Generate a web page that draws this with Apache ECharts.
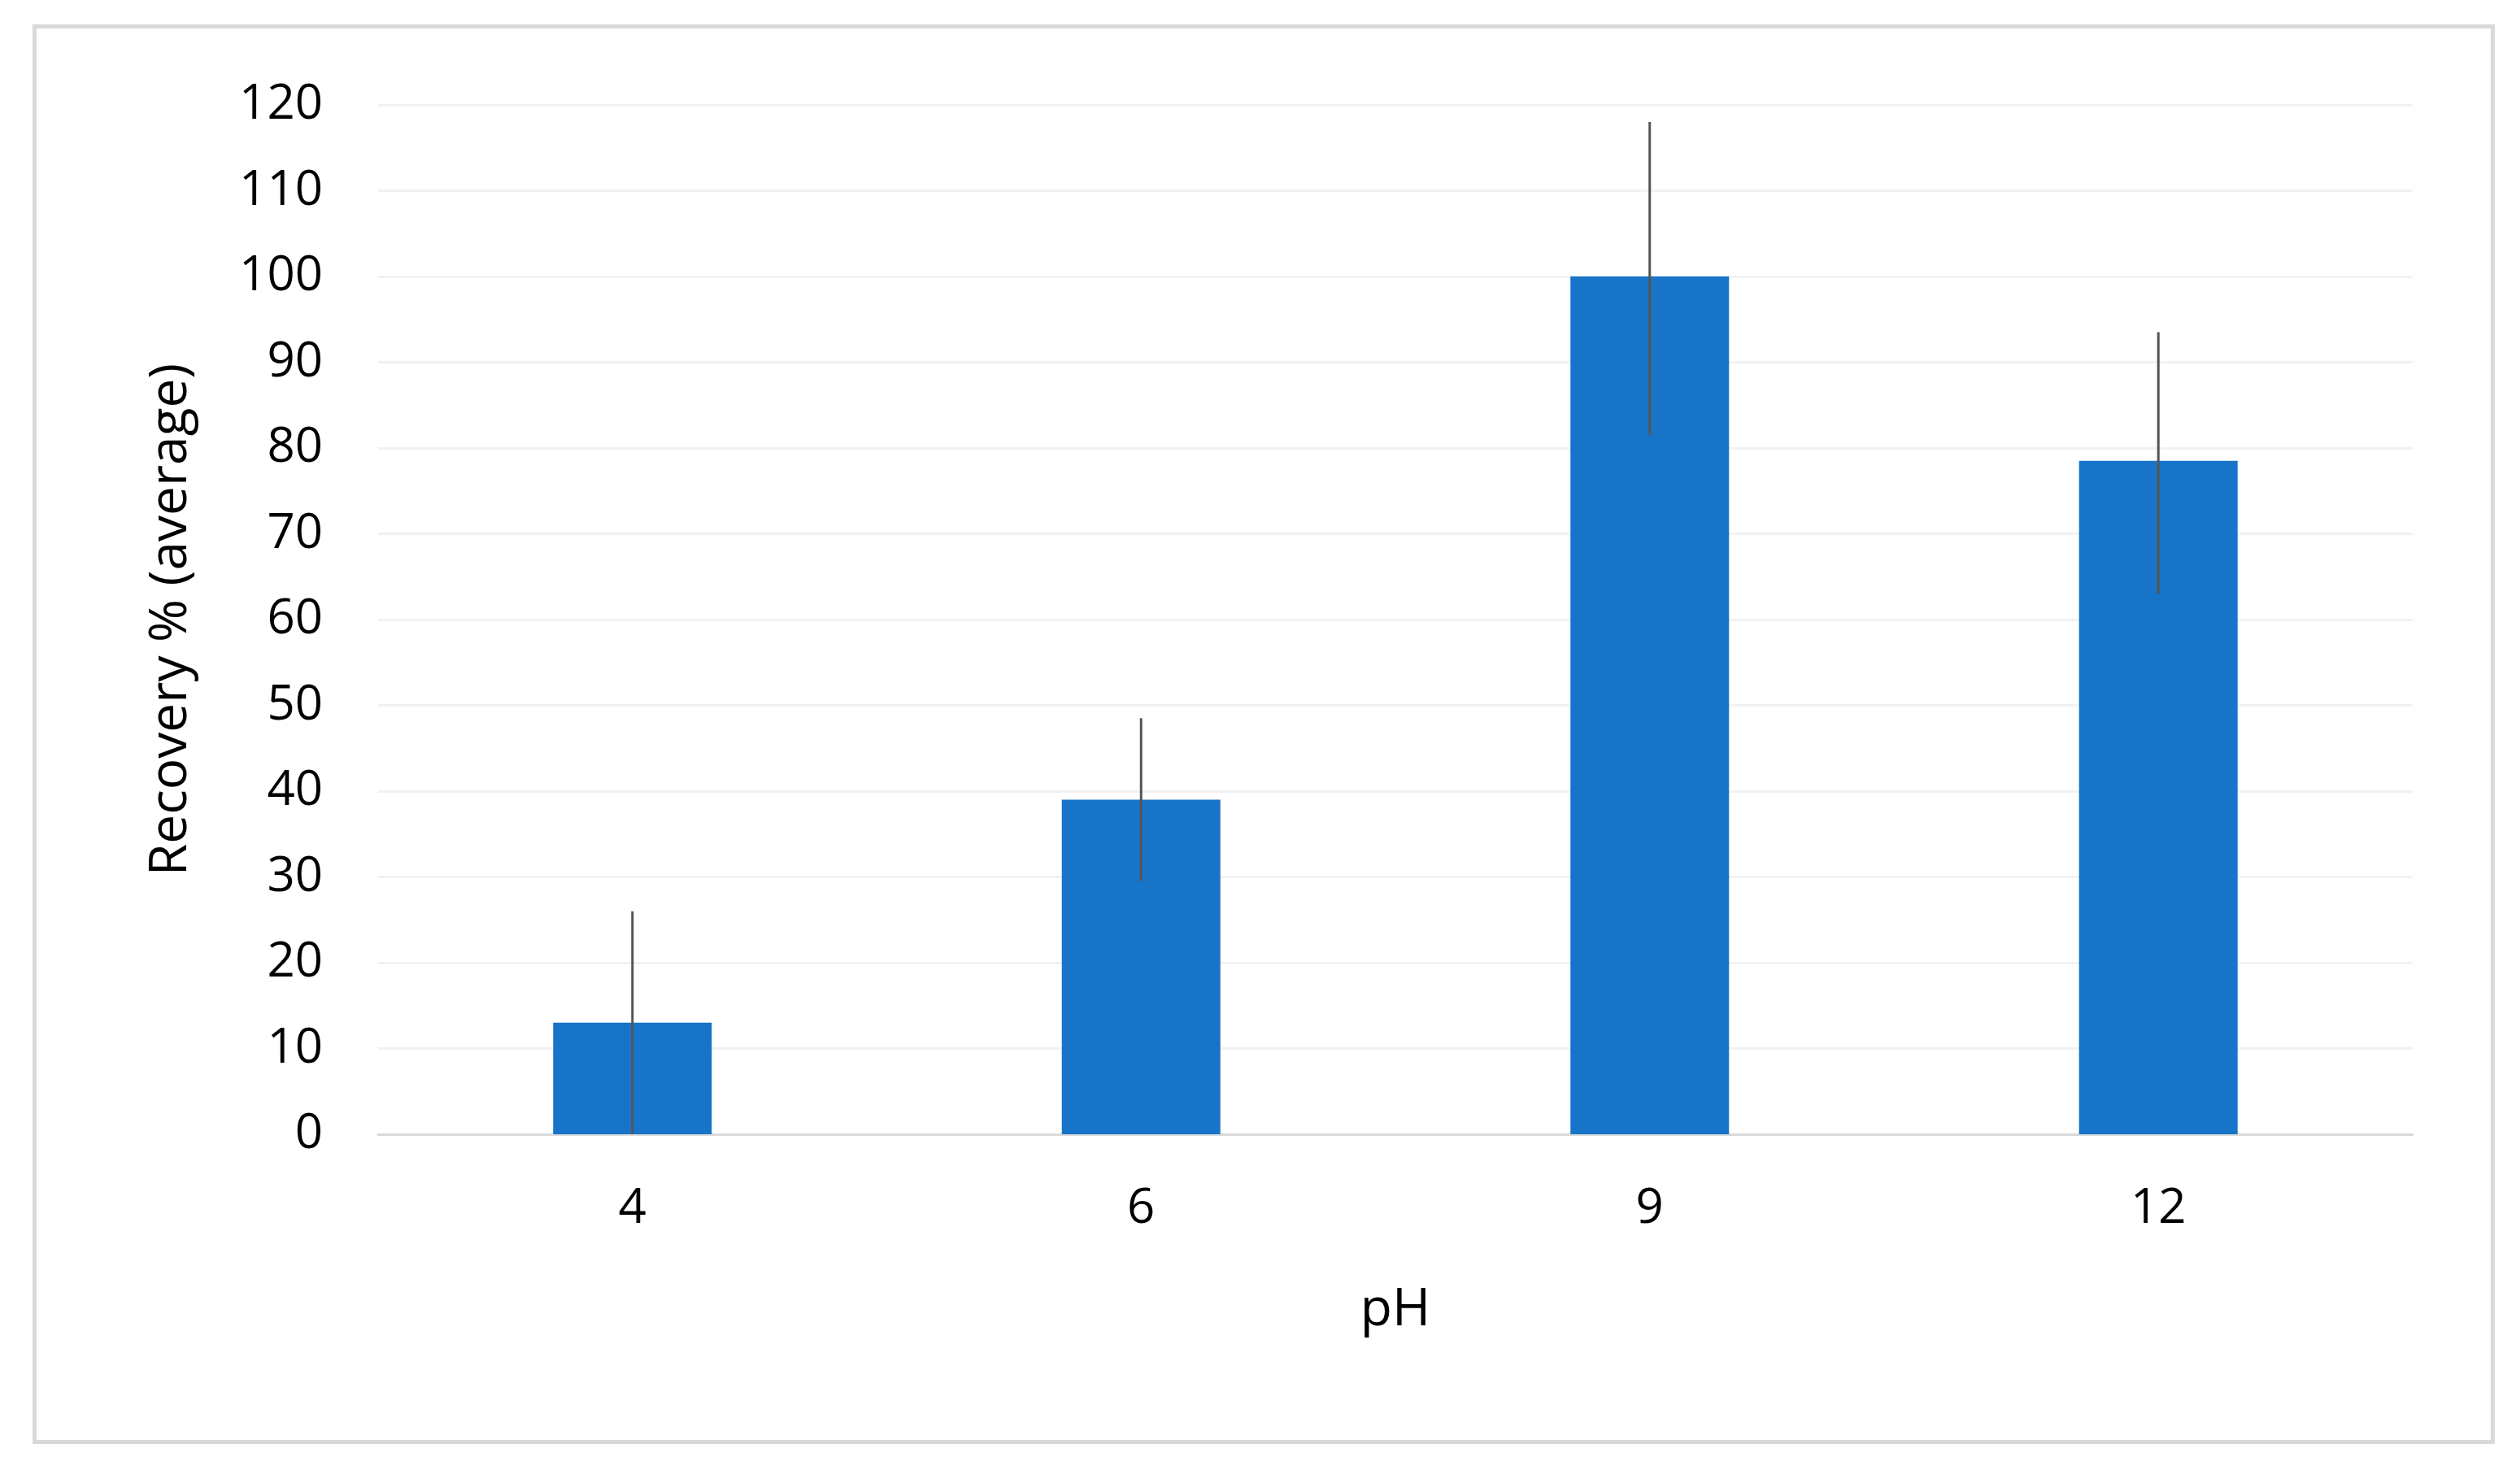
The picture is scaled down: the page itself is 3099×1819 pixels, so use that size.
<!DOCTYPE html>
<html>
<head>
<meta charset="utf-8">
<script src="https://cdn.jsdelivr.net/npm/echarts@6/dist/echarts.min.js"></script>
<style>
  html, body { margin: 0; padding: 0; background: #fff; }
  #frame { position: absolute; left: 40px; top: 30px; width: 3028px; height: 1746px; border: 5px solid #d9d9d9; box-sizing: border-box; }
  #chart { position: absolute; left: 0; top: 0; width: 3099px; height: 1819px; }
</style>
</head>
<body>
<div id="frame"></div>
<div id="chart"></div>
<script>
var categories = ['4', '6', '9', '12'];
var recovery = [13, 39, 100, 78.5];
var errorLow = [0, 29.5, 81.5, 63];
var errorHigh = [26, 48.5, 118, 93.5];

var chart = echarts.init(document.getElementById('chart'));
var font = 'Open Sans';

chart.setOption({
    animation: false,
    grid: { left: 465, right: 132, top: 129, bottom: 424 },
    xAxis: {
        type: 'category',
        data: categories,
        name: 'pH',
        nameLocation: 'middle',
        nameGap: 185,
        nameTextStyle: { fontFamily: font, fontSize: 64, color: '#000' },
        axisLine: { lineStyle: { color: '#d9d9d9', width: 3 } },
        axisTick: { show: false },
        axisLabel: { fontFamily: font, fontSize: 60, color: '#000', margin: 62 }
    },
    yAxis: {
        type: 'value',
        min: 0, max: 120, interval: 10,
        name: 'Recovery % (average)',
        nameLocation: 'middle',
        nameGap: 222,
        nameTextStyle: { fontFamily: font, fontSize: 64, color: '#000' },
        axisLine: { show: false },
        axisTick: { show: false },
        splitLine: { lineStyle: { color: '#f1f1f6', width: 3 } },
        axisLabel: { fontFamily: font, fontSize: 60, color: '#000', margin: 68 }
    },
    series: [{
        type: 'bar',
        data: recovery,
        barWidth: 195,
        itemStyle: { color: '#1874c8' }
    }, {
        type: 'custom',
        data: categories.map(function (c, i) { return [i, errorLow[i], errorHigh[i]]; }),
        renderItem: function (params, api) {
            var lo = api.coord([api.value(0), api.value(1)]);
            var hi = api.coord([api.value(0), api.value(2)]);
            return {
                type: 'line',
                shape: { x1: lo[0], y1: lo[1], x2: hi[0], y2: hi[1] },
                style: { stroke: '#555555', lineWidth: 3 }
            };
        },
        z: 10
    }]
});
</script>
</body>
</html>
